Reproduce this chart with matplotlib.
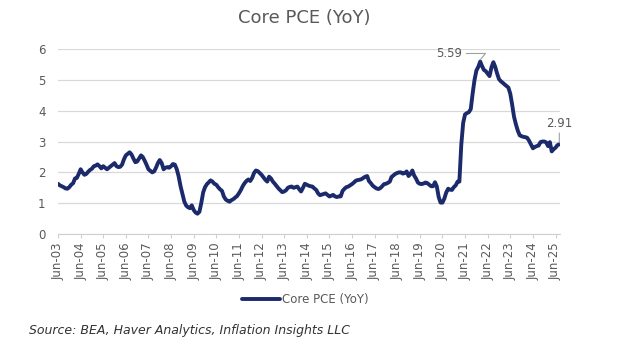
import matplotlib
matplotlib.use("Agg")
import matplotlib.pyplot as plt
import matplotlib.dates as mdates
import numpy as np
import pandas as pd

# Core PCE, year-over-year %, monthly from Jun 2003
start_month = "2003-06-01"
core_pce = [
    # 2003 Jun-Dec
    1.63, 1.58, 1.55, 1.52, 1.48, 1.47, 1.52,
    # 2004
    1.60, 1.65, 1.80, 1.82, 1.95, 2.10, 2.00, 1.92, 1.95, 2.02, 2.08, 2.12,
    # 2005
    2.20, 2.22, 2.26, 2.20, 2.13, 2.20, 2.15, 2.10, 2.15, 2.20, 2.25, 2.30,
    # 2006
    2.20, 2.17, 2.18, 2.25, 2.42, 2.55, 2.60, 2.65, 2.58, 2.45, 2.33, 2.35,
    # 2007
    2.45, 2.55, 2.50, 2.38, 2.25, 2.10, 2.05, 2.00, 2.03, 2.15, 2.30, 2.40,
    # 2008
    2.30, 2.10, 2.15, 2.17, 2.15, 2.20, 2.27, 2.25, 2.10, 1.87, 1.55, 1.30,
    # 2009
    1.05, 0.92, 0.87, 0.84, 0.93, 0.78, 0.70, 0.66, 0.72, 1.00, 1.35, 1.52,
    # 2010
    1.62, 1.68, 1.74, 1.70, 1.63, 1.60, 1.52, 1.45, 1.40, 1.22, 1.12, 1.08,
    # 2011
    1.05, 1.10, 1.13, 1.18, 1.23, 1.32, 1.42, 1.55, 1.65, 1.72, 1.77, 1.72,
    # 2012
    1.82, 1.98, 2.06, 2.04, 1.98, 1.92, 1.84, 1.76, 1.70, 1.86, 1.80, 1.70,
    # 2013
    1.63, 1.55, 1.48, 1.42, 1.36, 1.38, 1.42, 1.50, 1.53, 1.54, 1.50, 1.52,
    # 2014
    1.54, 1.45, 1.38, 1.50, 1.63, 1.60, 1.57, 1.55, 1.54, 1.48, 1.43, 1.32,
    # 2015
    1.26, 1.28, 1.30, 1.32, 1.27, 1.22, 1.24, 1.27, 1.22, 1.20, 1.22, 1.22,
    # 2016
    1.40, 1.47, 1.52, 1.54, 1.58, 1.62, 1.67, 1.73, 1.75, 1.76, 1.78, 1.82,
    # 2017
    1.86, 1.88, 1.72, 1.65, 1.57, 1.52, 1.48, 1.46, 1.49, 1.55, 1.62, 1.63,
    # 2018
    1.66, 1.70, 1.85, 1.90, 1.95, 1.98, 2.00, 2.00, 1.96, 1.98, 2.03, 1.88,
    # 2019
    1.95, 2.06, 1.90, 1.80, 1.67, 1.63, 1.62, 1.64, 1.67, 1.65, 1.60, 1.55,
    # 2020
    1.55, 1.68, 1.55, 1.20, 1.02, 1.02, 1.15, 1.35, 1.47, 1.44, 1.43, 1.52,
    # 2021
    1.58, 1.70, 1.70, 2.90, 3.60, 3.88, 3.92, 3.95, 4.05, 4.55, 5.00, 5.30,
    # 2022
    5.42, 5.59, 5.45, 5.32, 5.28, 5.20, 5.12, 5.40, 5.57, 5.42, 5.20, 5.02,
    # 2023
    4.95, 4.90, 4.85, 4.80, 4.75, 4.55, 4.20, 3.80, 3.55, 3.35, 3.20, 3.17,
    # 2024
    3.15, 3.14, 3.12, 3.02, 2.90, 2.78, 2.82, 2.85, 2.87, 2.98, 3.00, 3.00,
    # 2025 Jan-Aug
    2.97, 2.85, 2.98, 2.68, 2.75, 2.80, 2.88, 2.91,
]
y_ticks = [0, 1, 2, 3, 4, 5, 6]
peak_label = "5.59"
last_label = "2.91"

dates = pd.date_range(start_month, periods=len(core_pce), freq="MS")
vals = np.array(core_pce)

navy = "#1b2a6b"
gray = "#595959"

fig = plt.figure(figsize=(6.2, 3.52), dpi=100)
ax = fig.add_axes([0.0935, 0.335, 0.81, 0.526])

ax.plot(dates, vals, color=navy, linewidth=2.8, label="Core PCE (YoY)",
        solid_joinstyle="round", solid_capstyle="round", zorder=3)

ax.set_ylim(0, 6)
ax.set_yticks(y_ticks)
ax.set_xlim(pd.Timestamp("2003-06-01"), pd.Timestamp("2025-08-15"))

# June ticks every year
ax.xaxis.set_major_locator(mdates.MonthLocator(bymonth=6, bymonthday=1))
ax.xaxis.set_major_formatter(mdates.DateFormatter("%b-%y"))
plt.setp(ax.get_xticklabels(), rotation=90)

ax.grid(axis="y", color="#d9d9d9", linewidth=0.9, zorder=0)
for s in ["top", "right", "left"]:
    ax.spines[s].set_visible(False)
ax.spines["bottom"].set_color("#d0d0d0")
ax.tick_params(axis="y", length=0, labelsize=8.5, labelcolor=gray, pad=9)
ax.tick_params(axis="x", length=3, color="#d0d0d0", labelsize=8.5,
               labelcolor=gray, pad=3)

# peak and last-value labels
peak_i = int(np.argmax(vals))
ax.annotate(peak_label, xy=(dates[peak_i], vals[peak_i] + 0.06),
            xytext=(-13, 4.5), textcoords="offset points",
            fontsize=8.5, color=gray, ha="right", va="center",
            arrowprops=dict(arrowstyle="-", color="#a0a0a0", lw=0.8,
                            connectionstyle="angle,angleA=0,angleB=50,rad=0",
                            shrinkA=1, shrinkB=0))
ax.annotate(last_label, xy=(dates[-1], vals[-1] + 0.05),
            xytext=(0, 9), textcoords="offset points",
            fontsize=8.5, color=gray, ha="center", va="bottom",
            annotation_clip=False,
            arrowprops=dict(arrowstyle="-", color="#a0a0a0", lw=0.8,
                            shrinkA=0, shrinkB=0))

fig.text(0.49, 0.948, "Core PCE (YoY)", ha="center", va="center",
         fontsize=13, color=gray)

leg = fig.legend(loc="center", bbox_to_anchor=(0.493, 0.148), frameon=False,
                 fontsize=8.5, handlelength=3.2, handletextpad=0.2)
for t in leg.get_texts():
    t.set_color(gray)

fig.text(0.047, 0.06, "Source: BEA, Haver Analytics, Inflation Insights LLC",
         ha="left", va="center", fontsize=9, style="italic", color="#333333")

fig.savefig("out.png", dpi=100)
